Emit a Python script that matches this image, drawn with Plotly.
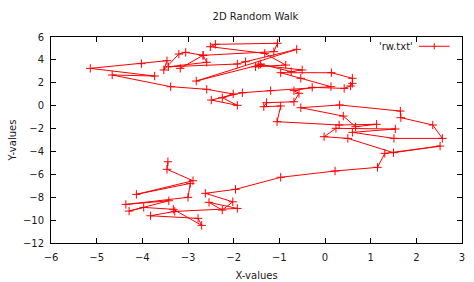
import plotly.graph_objects as go

x_values = [-3.44, -3.46, -2.89, -4.13, -2.95, -3.00, -4.36, -3.42, -4.29, -3.97,
            -3.32, -2.70, -2.78, -3.82, -3.29, -1.92, -2.54, -2.25, -2.02, -2.62,
            -1.96, -0.97, 0.22, 1.15, 1.31, 2.52, 1.50, 0.50, -0.02, 0.24,
            1.54, 0.60, 1.51, 2.57, 2.36, 1.66, 1.65, 0.32, -0.53, 0.40,
            0.67, 1.13, 0.31, -1.05, -0.97, -1.34, -1.28, -0.68, -0.57, -0.68,
            -0.28, 0.42, 0.56, 0.60, 0.60, 0.14, -0.97, -0.53, 0.13, -1.19,
            -1.81, -2.49, -1.92, -2.25, -2.01, -2.59, -3.38, -4.66, -3.73, -5.14,
            -4.02, -3.46, -3.53, -3.20, -3.05, -2.67, -2.59, -3.43, -1.92, -1.74,
            -0.62, -2.82, -1.45, -0.50, -0.74, -1.41, -1.52, -0.86, -1.32, -2.51,
            -2.40, -1.04, -1.12, -2.67, -3.17]
y_values = [-4.90, -5.56, -6.56, -7.75, -6.79, -8.01, -8.63, -8.31, -9.21, -8.89,
            -9.06, -10.46, -9.85, -9.62, -9.24, -8.98, -8.45, -9.12, -8.40, -7.66,
            -7.31, -6.26, -5.71, -5.39, -4.17, -3.53, -4.11, -2.86, -2.71, -1.98,
            -2.04, -2.33, -2.86, -2.86, -1.69, -1.05, -0.47, 0.06, -0.18, -0.91,
            -1.84, -1.63, -1.69, -1.40, -0.03, -0.09, 0.26, 0.34, 1.08, 1.31,
            1.60, 1.51, 1.72, 1.95, 2.39, 2.88, 2.88, 2.39, 1.66, 1.31,
            1.13, 0.49, 0.03, 0.70, 1.02, 1.43, 1.66, 2.68, 2.59, 3.26,
            3.67, 3.93, 3.12, 4.51, 4.66, 4.40, 3.79, 3.40, 3.64, 3.84,
            4.92, 2.15, 3.55, 3.12, 2.97, 3.64, 3.40, 3.55, 4.57, 5.15,
            5.36, 5.45, 4.72, 4.40, 3.26]

x_ticks = [-6, -5, -4, -3, -2, -1, 0, 1, 2, 3]
y_ticks = [-12, -10, -8, -6, -4, -2, 0, 2, 4, 6]
series_name = "'rw.txt'"

RED = "#ff0000"
TXT = "#1a1a1a"
FONT = "DejaVu Sans"

fig = go.Figure()
fig.add_trace(go.Scatter(
    x=x_values, y=y_values, mode="lines+markers", name=series_name,
    line=dict(color=RED, width=1),
    marker=dict(symbol="cross-thin", size=6, line=dict(color=RED, width=1)),
    showlegend=False,
))

axis_common = dict(
    showline=True, linecolor="#000000", linewidth=1, mirror="ticks",
    ticks="inside", ticklen=5, tickcolor="#000000", tickwidth=1,
    showgrid=False, zeroline=False, automargin=False,
    tickfont=dict(family=FONT, size=10, color=TXT),
)
fig.update_xaxes(range=[-6, 3], tickvals=x_ticks, ticklabelstandoff=5, **axis_common,
                 title=dict(text="X-values", font=dict(family=FONT, size=10, color=TXT), standoff=9))
fig.update_yaxes(range=[-12, 6], tickvals=y_ticks, ticklabelstandoff=4, **axis_common,
                 title=dict(text="Y-values", font=dict(family=FONT, size=10, color=TXT), standoff=4))

# gnuplot-style key: text then line sample with point marker
fig.add_annotation(xref="paper", yref="paper", x=0.885, y=0.955, xanchor="right", yanchor="middle",
                   text=series_name, showarrow=False, font=dict(family=FONT, size=10, color=TXT))
fig.add_shape(type="line", xref="paper", yref="paper", x0=0.895, x1=0.97, y0=0.955, y1=0.955,
              line=dict(color=RED, width=1))
fig.add_shape(type="line", xref="paper", yref="paper", x0=0.9325, x1=0.9325, y0=0.94, y1=0.97,
              line=dict(color=RED, width=1))

fig.update_layout(
    width=474, height=282,
    margin=dict(l=51, r=12, t=37, b=39),
    paper_bgcolor="white", plot_bgcolor="white",
    title=dict(text="2D Random Walk", x=0.539, xanchor="center", y=0.94, yanchor="middle",
               font=dict(family=FONT, size=10, color=TXT)),
    font=dict(family=FONT, size=10, color=TXT),
)

fig.write_html("out.html")
